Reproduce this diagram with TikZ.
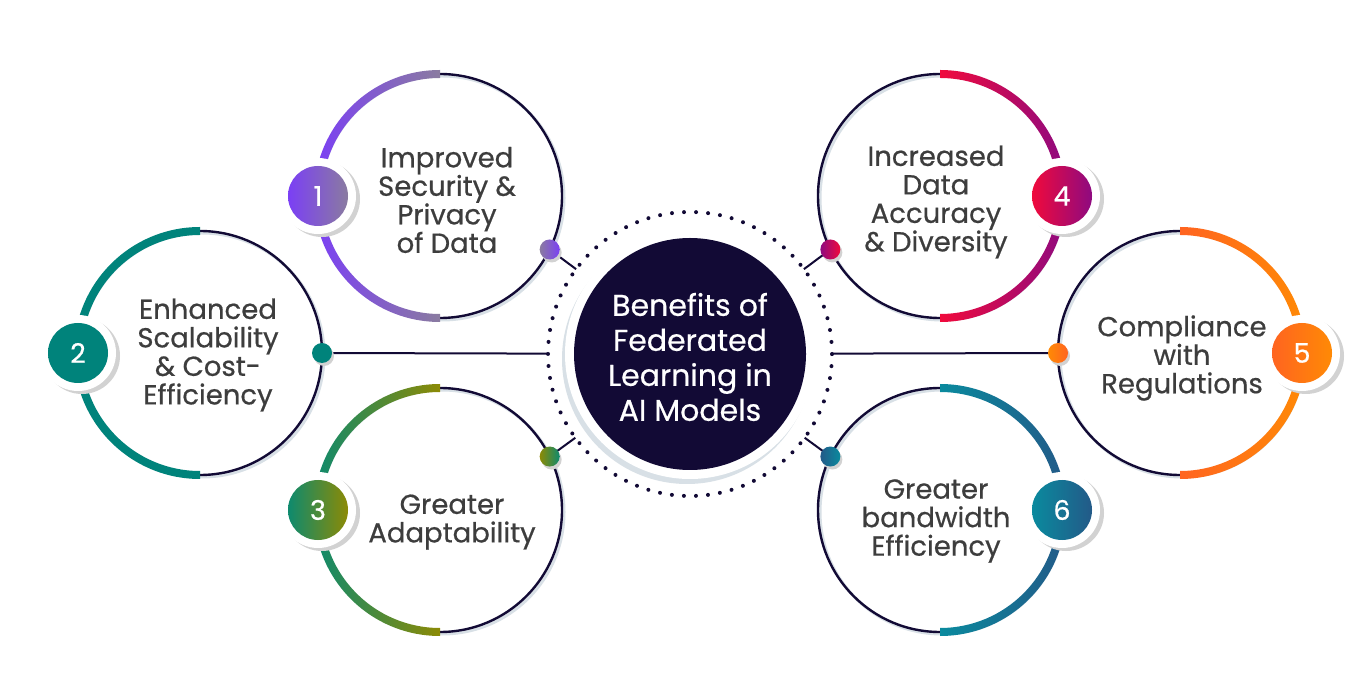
\documentclass[tikz,border=0pt]{standalone}
\usepackage{fontspec}
\setmainfont{Poppins}
\newfontfamily\medfont{Poppins}[FakeBold=0.6]
\usetikzlibrary{calc}

\definecolor{navy}{HTML}{120A35}
\definecolor{txt}{HTML}{3D3D3D}
\definecolor{violetA}{HTML}{7B3FF5}
\definecolor{violetB}{HTML}{8A7BA0}
\definecolor{tealA}{HTML}{00837B}
\definecolor{greenA}{HTML}{0E8A6E}
\definecolor{oliveB}{HTML}{8C8A05}
\definecolor{redA}{HTML}{F00A3C}
\definecolor{plumB}{HTML}{8E0A80}
\definecolor{orangeA}{HTML}{FF6420}
\definecolor{orangeB}{HTML}{FF8A05}
\definecolor{cyanA}{HTML}{0A8A9E}
\definecolor{blueB}{HTML}{235A88}
\definecolor{shadowgray}{HTML}{D2D2D2}
\definecolor{ringgray}{HTML}{D8E0E6}

\tikzset{
  label text/.style={text=txt, align=center, font=\medfont\fontsize{27.5}{28.5}\selectfont},
  hub text/.style={text=white, align=center, font=\medfont\fontsize{30}{35}\selectfont},
  badge num/.style={text=white, font=\medfont\fontsize{27}{27}\selectfont},
}

\begin{document}
\begin{tikzpicture}[x=1pt,y=1pt]
  \useasboundingbox[fill=white] (0,0) rectangle (1367,691);
  \coordinate (C) at (690,337);
  % dotted ring round the hub
  \draw[navy, line width=4pt, line cap=round, dash pattern=on 0pt off 12.057pt] (C) circle (142);
  % six benefit circles
  \foreach \i/\cx/\cy/\s/\ca/\cb/\da/\tx/\ty/\txt in {
      1/440/495/1/violetA/violetB/-26/7/-4/{Improved\\Security \&\\Privacy\\of Data},
      2/200/338/1/tealA/tealA/0/8/-2/{Enhanced\\Scalability\\\& Cost-\\Efficiency},
      3/440/181/1/greenA/oliveB/26/12/-12/{Greater\\Adaptability},
      4/940/495/-1/redA/plumB/206/-4/-6/{Increased\\Data\\Accuracy\\\& Diversity},
      5/1180/338/-1/orangeA/orangeB/180/2/-5/{Compliance\\with\\Regulations},
      6/940/181/-1/cyanA/blueB/154/-4/-11/{Greater\\bandwidth\\Efficiency}} {
    \pgfmathsetmacro\dl{180*\s}
    \pgfmathsetmacro\ae{90+180*\s}
    \pgfmathsetmacro\ba{90+90*\s}
    \coordinate (c\i) at (\cx,\cy);
    \draw[ringgray, line width=3pt] ($(c\i)+(2,-2)$) circle (122);
    \draw[navy, line width=2.4pt] (c\i) circle (122);
    % coloured half ring
    \shade[left color=\ca, right color=\cb]
      ($(c\i)+(90:126)$) arc[start angle=90, delta angle=\dl, radius=126]
      -- ($(c\i)+(\ae:118)$) arc[start angle=\ae, delta angle=-\dl, radius=118]
      -- cycle;
    % number badge
    \coordinate (b\i) at ($(c\i)+(\ba:122)$);
    \fill[shadowgray] ($(b\i)+(4,-3)$) circle (38);
    \fill[white] (b\i) circle (38);
    \shade[left color=\ca, right color=\cb] (b\i) circle (30);
    \node[badge num] (n\i) at (b\i) {\i};
    % connector to the hub
    \coordinate (d\i) at ($(c\i)+(\da:122)$);
    \coordinate (r\i) at ($(C)!142pt!(d\i)$);
    \draw[navy, line width=2pt] (d\i) -- (r\i);
    \fill[shadowgray] ($(d\i)+(2,-3)$) circle (10);
    \shade[left color=\cb, right color=\ca] (d\i) circle (10);
    \node[label text] (t\i) at ($(c\i)+(\tx,\ty)$) {\txt};
  }
  % hub
  \fill[ringgray] ($(C)+(-3,-5)$) circle (125);
  \fill[white] (C) circle (125);
  \fill[navy] (C) circle (116);
  \node[hub text] (hub) at ($(C)+(0,-3)$) {Benefits of\\Federated\\Learning in\\AI Models};
\end{tikzpicture}
\end{document}
